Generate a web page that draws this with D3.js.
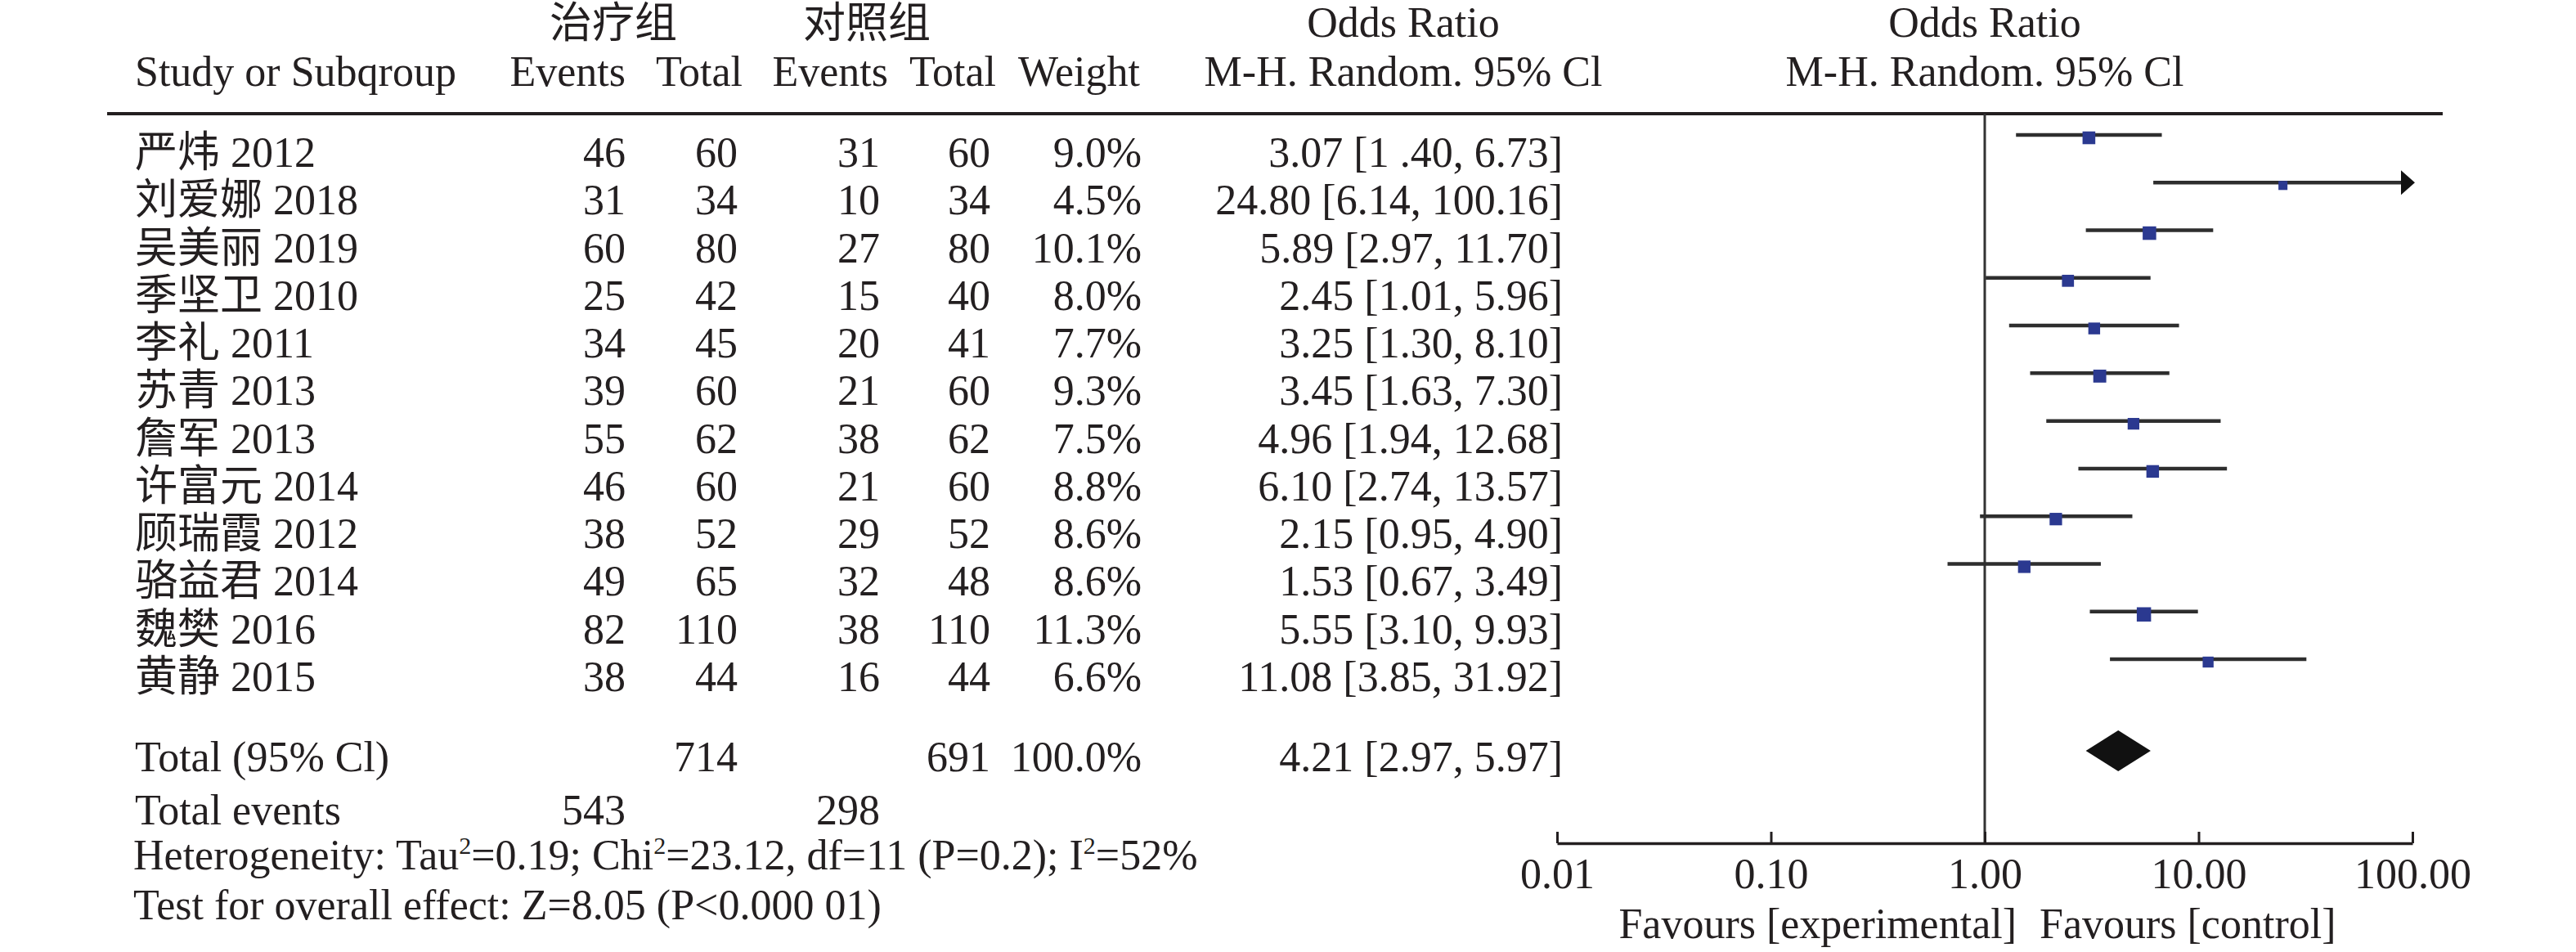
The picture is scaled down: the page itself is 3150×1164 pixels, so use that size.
<!DOCTYPE html>
<html>
<head>
<meta charset="utf-8">
<script src="https://cdn.jsdelivr.net/npm/d3@7"></script>
<style>
  html, body { margin: 0; padding: 0; background: #fff; }
  svg text { font-family: "Liberation Serif", "Times New Roman", "Noto Sans CJK SC", serif; fill: #231f20; }
</style>
</head>
<body>
<div id="chart"></div>
<script>
// study rows
const studies = ['严炜 2012', '刘爱娜 2018', '吴美丽 2019', '季坚卫 2010', '李礼 2011', '苏青 2013',
                 '詹军 2013', '许富元 2014', '顾瑞霞 2012', '骆益君 2014', '魏樊 2016', '黄静 2015'];
const expEvents = [46, 31, 60, 25, 34, 39, 55, 46, 38, 49, 82, 38];
const expTotal = [60, 34, 80, 42, 45, 60, 62, 60, 52, 65, 110, 44];
const ctrlEvents = [31, 10, 27, 15, 20, 21, 38, 21, 29, 32, 38, 16];
const ctrlTotal = [60, 34, 80, 40, 41, 60, 62, 60, 52, 48, 110, 44];
const weights = [9.0, 4.5, 10.1, 8.0, 7.7, 9.3, 7.5, 8.8, 8.6, 8.6, 11.3, 6.6];
const oddsRatio = [3.07, 24.80, 5.89, 2.45, 3.25, 3.45, 4.96, 6.10, 2.15, 1.53, 5.55, 11.08];
const ciLow = [1.40, 6.14, 2.97, 1.01, 1.30, 1.63, 1.94, 2.74, 0.95, 0.67, 3.10, 3.85];
const ciHigh = [6.73, 100.16, 11.70, 5.96, 8.10, 7.30, 12.68, 13.57, 4.90, 3.49, 9.93, 31.92];
const ciLabels = ['3.07 [1 .40, 6.73]', '24.80 [6.14, 100.16]', '5.89 [2.97, 11.70]', '2.45 [1.01, 5.96]',
                  '3.25 [1.30, 8.10]', '3.45 [1.63, 7.30]', '4.96 [1.94, 12.68]', '6.10 [2.74, 13.57]',
                  '2.15 [0.95, 4.90]', '1.53 [0.67, 3.49]', '5.55 [3.10, 9.93]', '11.08 [3.85, 31.92]'];

// pooled result
const total = {label: 'Total (95% Cl)', expTotal: 714, ctrlTotal: 691, weight: '100.0%',
               or: 4.21, lo: 2.97, hi: 5.97, text: '4.21 [2.97, 5.97]'};
const totalEvents = [543, 298];

const tickValues = [0.01, 0.1, 1, 10, 100];
const tickLabels = ['0.01', '0.10', '1.00', '10.00', '100.00'];

const width = 3150, height = 1164;
const fs = 52;
const ink = '#231f20';

const svg = d3.select('#chart').append('svg')
    .attr('width', width).attr('height', height)
    .style('background', '#fff');

// scales
const x = d3.scaleLog().domain([0.01, 100]).range([1904, 2950]);
const rowY = d3.scaleLinear().domain([0, studies.length - 1]).range([204, 845]);
const totalY = 943;
const leftX = 165;

// column right edges for numbers
const col = {expEv: 765, expTot: 902, ctrlEv: 1076, ctrlTot: 1211, weight: 1396, ci: 1911};

// header
const head = svg.append('g').attr('font-size', fs);
head.append('text').attr('x', 750).attr('y', 46).attr('text-anchor', 'middle').text('治疗组');
head.append('text').attr('x', 1060).attr('y', 46).attr('text-anchor', 'middle').text('对照组');
head.append('text').attr('x', 1716).attr('y', 45).attr('text-anchor', 'middle').text('Odds Ratio');
head.append('text').attr('x', x(1)).attr('y', 45).attr('text-anchor', 'middle').text('Odds Ratio');
head.append('text').attr('x', leftX).attr('y', 105).text('Study or Subqroup');
[['Events', col.expEv], ['Total', col.expTot + 6], ['Events', col.ctrlEv + 10],
 ['Total', col.ctrlTot + 7], ['Weight', col.weight - 2]].forEach(([t, cx]) => {
    head.append('text').attr('x', cx).attr('y', 105).attr('text-anchor', 'end').text(t);
});
head.append('text').attr('x', 1716).attr('y', 105).attr('text-anchor', 'middle').text('M-H. Random. 95% Cl');
head.append('text').attr('x', x(1)).attr('y', 105).attr('text-anchor', 'middle').text('M-H. Random. 95% Cl');

svg.append('line').attr('x1', 131).attr('x2', 2987).attr('y1', 139).attr('y2', 139)
    .attr('stroke', ink).attr('stroke-width', 4);

// table rows
const rows = svg.append('g').attr('font-size', fs)
    .selectAll('g.row').data(studies.map((s, i) => i)).join('g').classed('row', true)
    .attr('transform', i => `translate(0,${rowY(i)})`);
rows.append('text').attr('x', leftX).text(i => studies[i]);
const cells = [[expEvents, col.expEv], [expTotal, col.expTot], [ctrlEvents, col.ctrlEv], [ctrlTotal, col.ctrlTot]];
cells.forEach(([arr, cx]) => {
    rows.append('text').attr('x', cx).attr('text-anchor', 'end').text(i => arr[i]);
});
rows.append('text').attr('x', col.weight).attr('text-anchor', 'end').text(i => weights[i].toFixed(1) + '%');
rows.append('text').attr('x', col.ci).attr('text-anchor', 'end').text(i => ciLabels[i]);

// total rows
const tot = svg.append('g').attr('font-size', fs);
tot.append('text').attr('x', leftX).attr('y', totalY).text(total.label);
tot.append('text').attr('x', col.expTot).attr('y', totalY).attr('text-anchor', 'end').text(total.expTotal);
tot.append('text').attr('x', col.ctrlTot).attr('y', totalY).attr('text-anchor', 'end').text(total.ctrlTotal);
tot.append('text').attr('x', col.weight).attr('y', totalY).attr('text-anchor', 'end').text(total.weight);
tot.append('text').attr('x', col.ci).attr('y', totalY).attr('text-anchor', 'end').text(total.text);
tot.append('text').attr('x', leftX).attr('y', 1008).text('Total events');
tot.append('text').attr('x', col.expEv).attr('y', 1008).attr('text-anchor', 'end').text(totalEvents[0]);
tot.append('text').attr('x', col.ctrlEv).attr('y', 1008).attr('text-anchor', 'end').text(totalEvents[1]);

const het = tot.append('text').attr('x', leftX - 2).attr('y', 1063);
const hetParts = [['Heterogeneity: Tau', false], ['2', true], ['=0.19; Chi', false], ['2', true],
                  ['=23.12, df=11 (P=0.2); I', false], ['2', true], ['=52%', false]];
hetParts.forEach(([t, sup]) => {
    het.append('tspan').attr('font-size', sup ? 30 : fs)
        .attr('baseline-shift', sup ? '65%' : null).text(t);
});
tot.append('text').attr('x', leftX - 2).attr('y', 1124).text('Test for overall effect: Z=8.05 (P<0.000 01)');

// forest plot
const plot = svg.append('g');
plot.append('line').attr('x1', x(1)).attr('x2', x(1)).attr('y1', 139).attr('y2', 1031)
    .attr('stroke', '#333').attr('stroke-width', 3);

const [dMin, dMax] = x.domain();
const marks = plot.selectAll('g.ci').data(studies.map((s, i) => i)).join('g').classed('ci', true)
    .attr('transform', i => `translate(0,${rowY(i) - 39})`);
marks.append('line')
    .attr('x1', i => x(Math.max(ciLow[i], dMin)))
    .attr('x2', i => ciHigh[i] > dMax ? x(dMax) - 12 : x(ciHigh[i]))
    .attr('stroke', '#2e2e2e').attr('stroke-width', 4.5);
marks.filter(i => ciHigh[i] > dMax).append('path')
    .attr('d', `M${x(dMax) - 14},-15 L${x(dMax) + 3},0 L${x(dMax) - 14},15 Z`)
    .attr('fill', '#111');
marks.append('rect')
    .attr('x', i => x(oddsRatio[i]) - 2.6 * Math.sqrt(weights[i]))
    .attr('y', i => 3.5 - 2.6 * Math.sqrt(weights[i]))
    .attr('width', i => 5.2 * Math.sqrt(weights[i]))
    .attr('height', i => 5.2 * Math.sqrt(weights[i]))
    .attr('fill', '#2b3990');

const dy = 918;
plot.append('path')
    .attr('d', `M${x(total.lo)},${dy} L${x(total.or)},${dy - 25} L${x(total.hi)},${dy} L${x(total.or)},${dy + 25} Z`)
    .attr('fill', '#111');

// axis
const axis = d3.axisBottom(x).tickValues(tickValues)
    .tickFormat((d, i) => tickLabels[i])
    .tickSizeInner(-14).tickSizeOuter(0).tickPadding(18);
const ax = svg.append('g').attr('transform', 'translate(0,1031)').call(axis);
ax.select('.domain').attr('stroke', ink).attr('stroke-width', 3.5);
ax.selectAll('.tick line').attr('stroke', ink).attr('stroke-width', 3);
ax.selectAll('.tick text').attr('font-size', fs).attr('font-family', '"Liberation Serif", serif').attr('fill', ink);

svg.append('text').attr('x', 2466).attr('y', 1147).attr('font-size', fs).attr('text-anchor', 'end')
    .text('Favours [experimental]');
svg.append('text').attr('x', 2494).attr('y', 1147).attr('font-size', fs)
    .text('Favours [control]');
</script>
</body>
</html>
